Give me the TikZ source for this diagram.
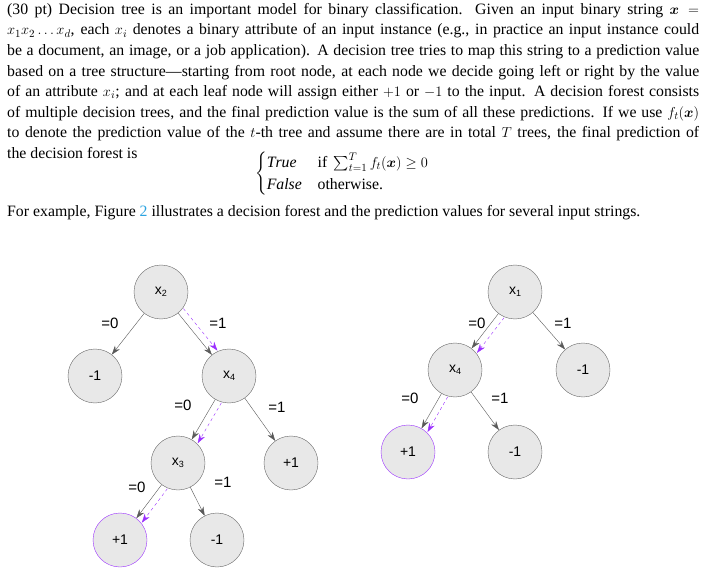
\documentclass[tikz,border=0pt]{standalone}
\usepackage{amsmath,bm}
\usepackage{fontspec}
\setmainfont{Liberation Serif}
\newfontfamily\arialf{Liberation Sans}
\usetikzlibrary{calc,arrows.meta}
\definecolor{linkblue}{HTML}{2BA3E0}
\definecolor{pur}{HTML}{9B30FF}
\tikzset{
 tn/.style={circle,draw=black!60,fill=black!9,minimum size=54pt,inner sep=0pt,font=\arialf\fontsize{14}{16}\selectfont},
 leafp/.style={tn,draw=pur},
 ed/.style={draw=black!65,-{Stealth[length=9pt,width=6pt]}},
 pth/.style={draw=pur,dashed,-{Stealth[length=9pt,width=6pt]}},
 lb/.style={font=\arialf\fontsize{15}{17}\selectfont,inner sep=0pt}
}
\newcommand{\sx}[1]{x\raisebox{-0.3ex}{\fontsize{9}{9}\selectfont #1}}
\begin{document}
\begin{tikzpicture}[x=1pt,y=-1pt]
\useasboundingbox (0,0) rectangle (704,577);
\node[anchor=north west,inner sep=0pt,text width=692pt,align=justify,font=\fontsize{15.8}{20.6}\selectfont] (txt) at (7,3) {(30 pt) Decision tree is an important model for binary classification. Given an input binary string $\bm{x}=$\linebreak
$x_1x_2\dots x_d$, each $x_i$ denotes a binary attribute of an input instance (e.g., in practice an input instance could\linebreak
be a document, an image, or a job application). A decision tree tries to map this string to a prediction value\linebreak
based on a tree structure---starting from root node, at each node we decide going left or right by the value\linebreak
of an attribute $x_i$; and at each leaf node will assign either $+1$ or $-1$ to the input. A decision forest consists\linebreak
of multiple decision trees, and the final prediction value is the sum of all these predictions. If we use $f_t(\bm{x})$\linebreak
to denote the prediction value of the $t$-th tree and assume there are in total $T$ trees, the final prediction of\linebreak
the decision forest is\hfill\null};
\node[anchor=west,inner sep=0pt,font=\fontsize{15.8}{18}\selectfont] (cases) at (255,174) {$\begin{cases}\mathit{True} & \text{if } \sum_{t=1}^{T} f_t(\bm{x})\geq 0\\ \mathit{False} & \text{otherwise.}\end{cases}$};
\node[anchor=west,inner sep=0pt,font=\fontsize{15.8}{18}\selectfont] (ex) at (7,213) {For example, Figure \textcolor{linkblue}{2} illustrates a decision forest and the prediction values for several input strings.};
% tree 1
\node[tn] (a) at (161,292) {\sx{2}};
\node[tn] (b) at (95,376) {-1};
\node[tn] (c) at (229,376) {\sx{4}};
\node[tn] (d) at (178,463) {\sx{3}};
\node[tn] (e) at (291,463) {+1};
\node[leafp] (f) at (120,540) {+1};
\node[tn] (g) at (217,540) {-1};
\draw[ed] (a) -- (b); \draw[ed] (a) -- (c);
\draw[ed] (c) -- (d); \draw[ed] (c) -- (e);
\draw[ed] (d) -- (f); \draw[ed] (d) -- (g);
\node[lb] at (110,323) {=0}; \node[lb] at (218,323) {=1};
\node[lb] at (183,405) {=0}; \node[lb] at (277,407) {=1};
\node[lb] at (137,487) {=0}; \node[lb] at (223,482) {=1};
\draw[pth] ($(a)!27pt!(c)!7pt!90:(c)$) -- ($(c)!27pt!(a)!7pt!-90:(a)$);
\draw[pth] ($(c)!27pt!(d)!7pt!90:(d)$) -- ($(d)!27pt!(c)!7pt!-90:(c)$);
\draw[pth] ($(d)!27pt!(f)!7pt!90:(f)$) -- ($(f)!27pt!(d)!7pt!-90:(d)$);
% tree 2
\node[tn] (h) at (515,292) {\sx{1}};
\node[tn] (i) at (455,370) {\sx{4}};
\node[tn] (j) at (583,370) {-1};
\node[leafp] (k) at (408,452) {+1};
\node[tn] (l) at (515,452) {-1};
\draw[ed] (h) -- (i); \draw[ed] (h) -- (j);
\draw[ed] (i) -- (k); \draw[ed] (i) -- (l);
\node[lb] at (477,323) {=0}; \node[lb] at (563,323) {=1};
\node[lb] at (410,398) {=0}; \node[lb] at (500,398) {=1};
\draw[pth] ($(h)!27pt!(i)!7pt!90:(i)$) -- ($(i)!27pt!(h)!7pt!-90:(h)$);
\draw[pth] ($(i)!27pt!(k)!7pt!90:(k)$) -- ($(k)!27pt!(i)!7pt!-90:(i)$);
\end{tikzpicture}
\end{document}
